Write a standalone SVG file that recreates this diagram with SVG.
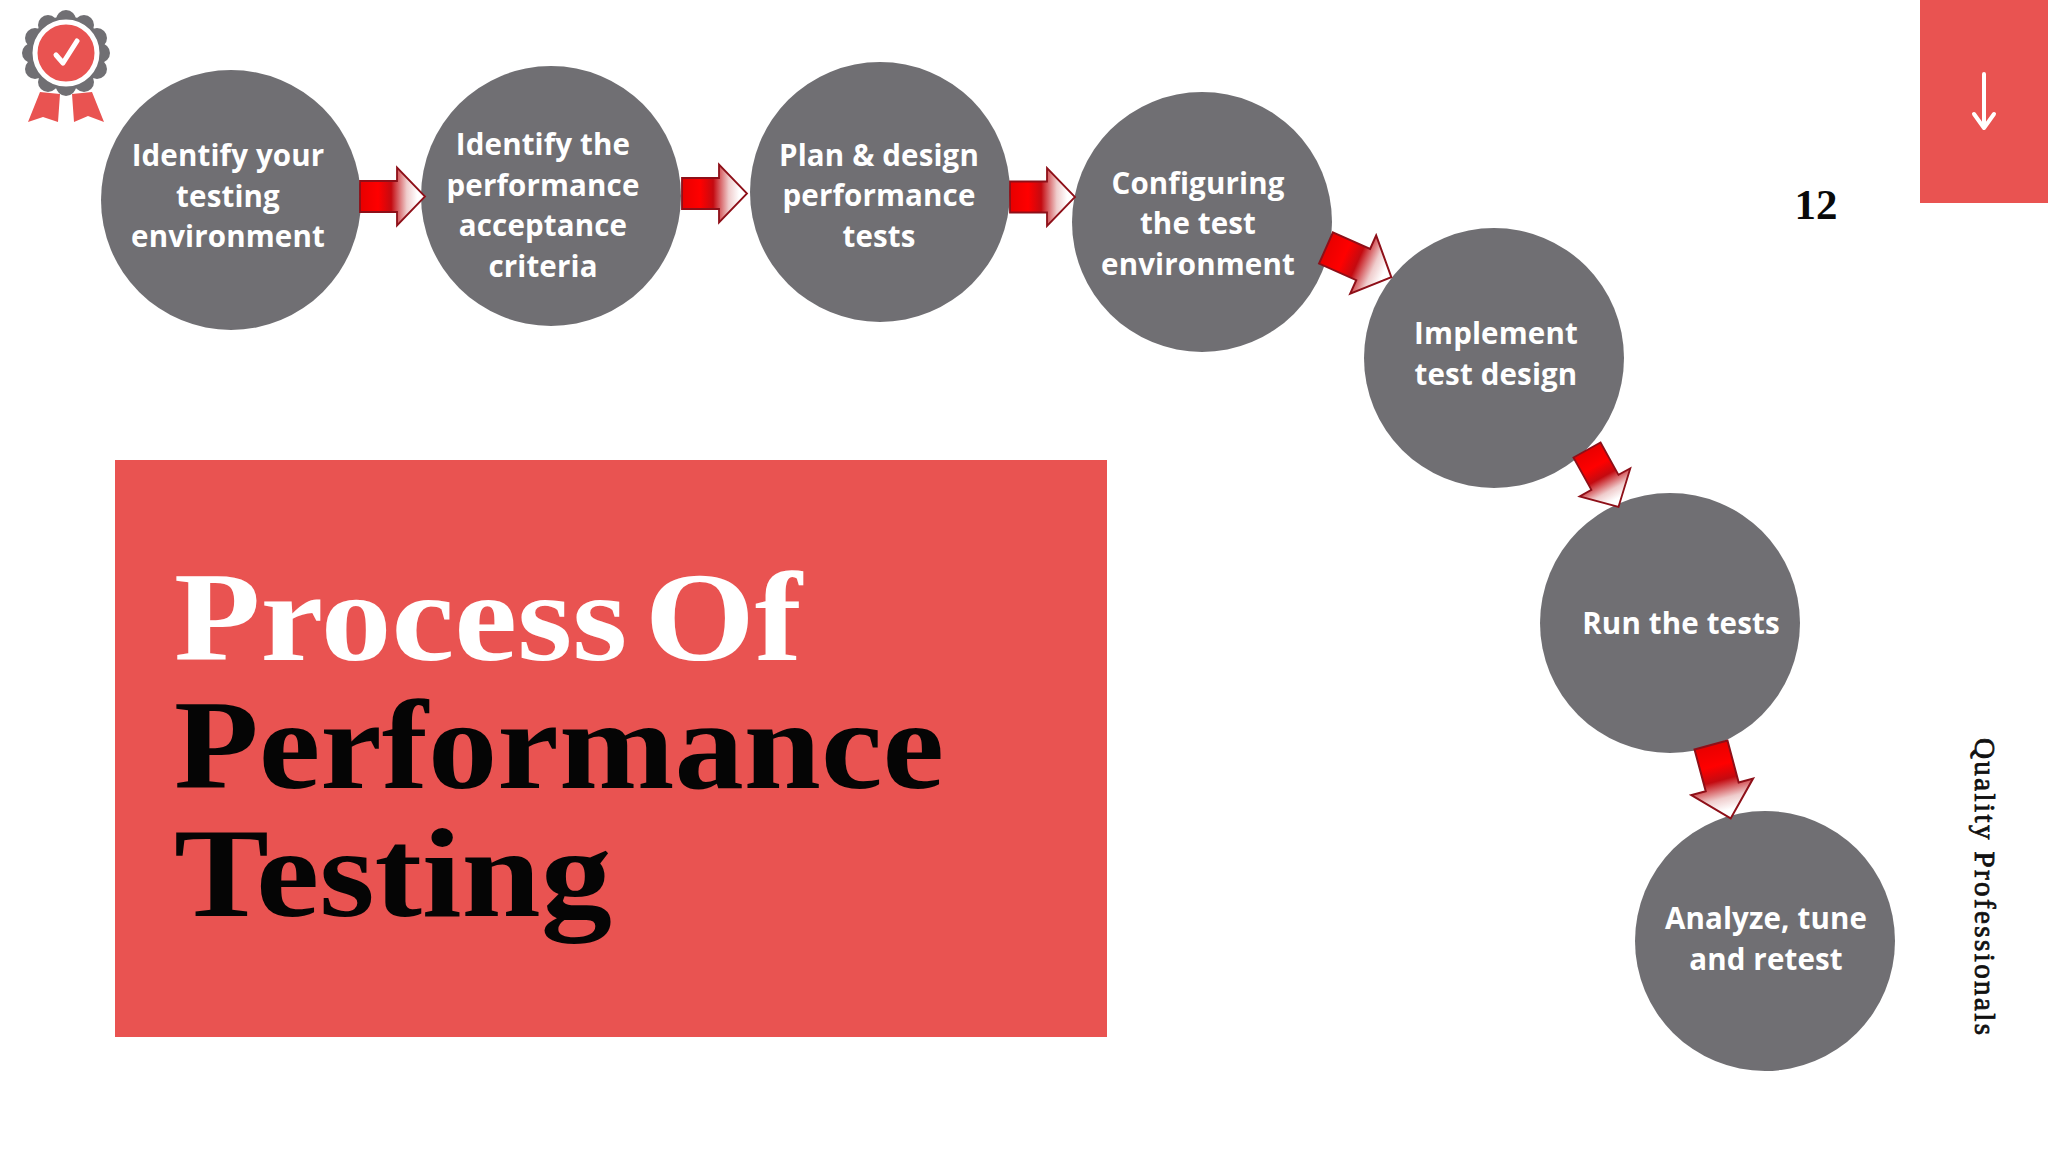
<svg xmlns="http://www.w3.org/2000/svg" width="2048" height="1152" viewBox="0 0 2048 1152">
<defs>
<linearGradient id="ag" x1="0" y1="0" x2="1" y2="0"><stop offset="0" stop-color="#e80000"/><stop offset="0.28" stop-color="#ff0000"/><stop offset="0.48" stop-color="#c40a10"/><stop offset="0.72" stop-color="#efcccc"/><stop offset="0.88" stop-color="#ffffff"/></linearGradient>
<path id="arr" d="M0,-15.5 H37 V-29 L65,0 L37,29 V15.5 H0 Z" fill="url(#ag)" stroke="#8e0f18" stroke-width="1.8" stroke-linejoin="miter"/>
</defs>
<style>
.n{fill:#706f73}
.t{font-family:"Open Sans",sans-serif;font-weight:700;font-size:29.5px;fill:#fff;text-anchor:middle;letter-spacing:.15px}
.h{font-family:"Liberation Serif",serif;font-weight:700;font-size:126px}
</style>
<rect width="2048" height="1152" fill="#fff"/>
<rect id="title-panel" x="115" y="460" width="992" height="577" fill="#e95351"/>
<text class="h" x="174" y="660" fill="#fff" word-spacing="-16" textLength="628" lengthAdjust="spacingAndGlyphs">Process Of</text>
<text class="h" x="174" y="788" fill="#050505" textLength="770" lengthAdjust="spacingAndGlyphs">Performance</text>
<text class="h" x="174" y="916" fill="#050505" textLength="438" lengthAdjust="spacingAndGlyphs">Testing</text>
<g id="corner"><rect x="1920" y="0" width="128" height="203" fill="#e95351"/>
<path d="M1984,74 V128 M1974,114 L1984,128 L1994,114" fill="none" stroke="#fff" stroke-width="4" stroke-linecap="round" stroke-linejoin="round"/></g>
<text x="1816" y="219" font-family="Liberation Serif,serif" font-weight="700" font-size="42" text-anchor="middle" fill="#0a0a0a" textLength="43" lengthAdjust="spacingAndGlyphs">12</text>
<text transform="translate(1975,738) rotate(90)" font-family="Liberation Serif,serif" font-size="29" fill="#111" stroke="#111" stroke-width=".8" textLength="297" lengthAdjust="spacing">Quality Professionals</text>
<g id="badge">
<path d="M40,92 L28,122 L43,117 L58,122 L60,94 Z M72,94 L74,122 L88,116 L104,122 L92,92 Z" fill="#e95351"/>
<circle cx="66" cy="53" r="37" fill="#706f73"/>
<g fill="#706f73"><circle cx="66" cy="20" r="10"/><circle cx="84" cy="25" r="10"/><circle cx="97" cy="38" r="10"/><circle cx="100" cy="53" r="10"/><circle cx="97" cy="69" r="10"/><circle cx="84" cy="82" r="10"/><circle cx="66" cy="86" r="10"/><circle cx="48" cy="82" r="10"/><circle cx="35" cy="69" r="10"/><circle cx="32" cy="53" r="10"/><circle cx="35" cy="38" r="10"/><circle cx="48" cy="25" r="10"/></g>
<circle cx="66" cy="53" r="31" fill="#e95351" stroke="#fff" stroke-width="5"/>
<path d="M56,55 L63,63 L77,41" fill="none" stroke="#fff" stroke-width="5" stroke-linecap="round" stroke-linejoin="round"/>
</g>
<g id="n1"><circle class="n" cx="231" cy="200" r="130"/><text class="t"><tspan x="228" y="166">Identify your</tspan><tspan x="228" y="207">testing</tspan><tspan x="228" y="247">environment</tspan></text></g>
<g id="n2"><circle class="n" cx="551" cy="196" r="130"/><text class="t"><tspan x="543" y="155">Identify the</tspan><tspan x="543" y="196">performance</tspan><tspan x="543" y="236">acceptance</tspan><tspan x="543" y="277">criteria</tspan></text></g>
<g id="n3"><circle class="n" cx="880" cy="192" r="130"/><text class="t"><tspan x="879" y="166">Plan &amp; design</tspan><tspan x="879" y="206">performance</tspan><tspan x="879" y="247">tests</tspan></text></g>
<g id="n4"><circle class="n" cx="1202" cy="222" r="130"/><text class="t"><tspan x="1198" y="194">Configuring</tspan><tspan x="1198" y="234">the test</tspan><tspan x="1198" y="275">environment</tspan></text></g>
<g id="n5"><circle class="n" cx="1494" cy="358" r="130"/><text class="t"><tspan x="1496" y="344">Implement</tspan><tspan x="1496" y="385">test design</tspan></text></g>
<g id="n6"><circle class="n" cx="1670" cy="623" r="130"/><text class="t" x="1681" y="634">Run the tests</text></g>
<g id="n7"><circle class="n" cx="1765" cy="941" r="130"/><text class="t"><tspan x="1766" y="929">Analyze, tune</tspan><tspan x="1766" y="970">and retest</tspan></text></g>
<g id="connectors">
<use href="#arr" transform="translate(360,196.5)"/>
<use href="#arr" transform="translate(682,193.5)"/>
<use href="#arr" transform="translate(1010,197)"/>
<use href="#arr" transform="translate(1326,248) rotate(24) scale(1.1,1.1)"/>
<use href="#arr" transform="translate(1587,450) rotate(61)"/>
<use href="#arr" transform="translate(1711,745) rotate(75) scale(1.17,1.1)"/>
</g>
</svg>
